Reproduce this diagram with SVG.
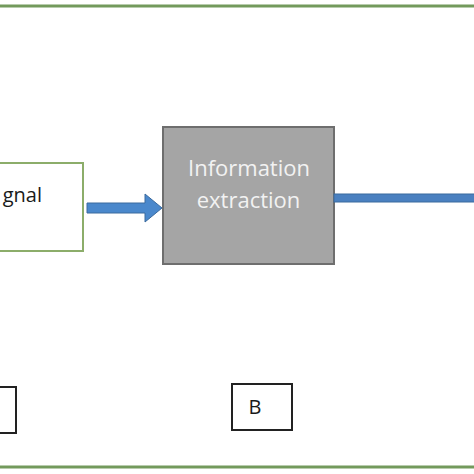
<svg xmlns="http://www.w3.org/2000/svg" width="474" height="474" viewBox="0 0 474 474">
<style>
.frame{stroke:#739a5c;stroke-width:3}
.lbl{font-family:"Open Sans","Liberation Sans",sans-serif}
.small{fill:none;stroke:#222;stroke-width:2}
</style>
<rect x="0" y="0" width="474" height="474" fill="#ffffff"/>
<line class="frame" x1="0" y1="6" x2="474" y2="6"/>
<line class="frame" x1="0" y1="467" x2="474" y2="467"/>
<g id="signal">
<rect x="-10" y="163" width="93" height="88" fill="#ffffff" stroke="#8cad6a" stroke-width="2"/>
<text class="lbl" x="42" y="202" font-size="20" fill="#1a1a1a" text-anchor="end">gnal</text>
</g>
<g id="extraction">
<rect x="163" y="127" width="171" height="137" fill="#a5a5a5" stroke="#6e6e6e" stroke-width="2"/>
<text class="lbl" x="249" y="176" font-size="22" fill="#f2f2f2" text-anchor="middle">Information</text>
<text class="lbl" x="248.5" y="208" font-size="22" fill="#f2f2f2" text-anchor="middle">extraction</text>
</g>
<g id="A">
<rect x="-10" y="387" width="26" height="46" class="small"/>
</g>
<g id="B">
<rect x="232" y="384" width="60" height="46" class="small"/>
<text class="lbl" x="255" y="414" font-size="20" fill="#1a1a1a" text-anchor="middle">B</text>
</g>
<g id="connectors">
<path d="M87,203 H145 V194 L162,208 L145,222 V213 H87 Z" fill="#4a88cc" stroke="#3a6a9e" stroke-width="1"/>
<rect x="334" y="194" width="142" height="8" fill="#4a80c0" stroke="#3a6a9e" stroke-width="1"/>
</g>
</svg>
